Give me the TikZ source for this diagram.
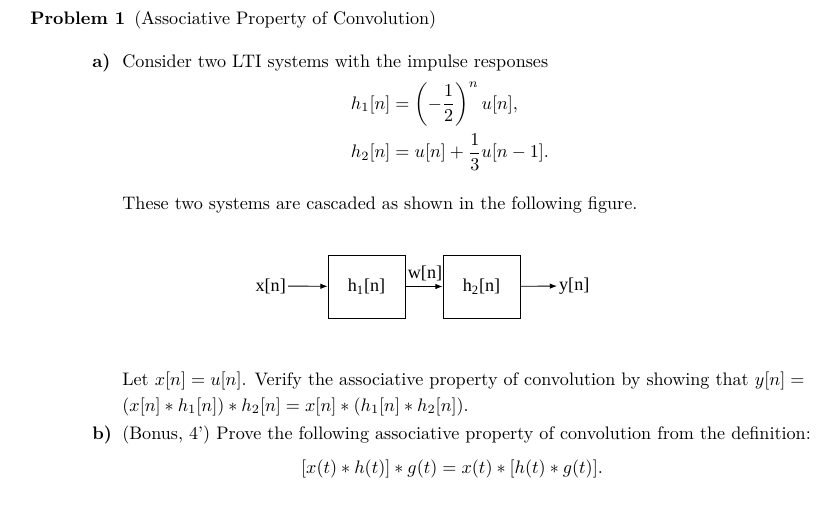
\documentclass[tikz,border=0pt]{standalone}
\usepackage{amsmath}
\usepackage{fontspec}
\newfontfamily\blk{Liberation Serif}
\usetikzlibrary{arrows.meta}
\begin{document}
\begin{tikzpicture}[x=0.552pt,y=-0.552pt,
  txt/.style={anchor=base west,inner sep=0pt},
  blockbox/.style={draw,minimum width=77*0.552pt,minimum height=63*0.552pt,inner sep=0pt,font=\blk},
  sig/.style={inner sep=1pt,font=\blk},
  conn/.style={-{Latex[length=4pt,width=3pt]},line width=0.5pt}]
\useasboundingbox (0,0) rectangle (831,509);
\node[txt] (t1) at (30,24) {\textbf{Problem 1}\enspace(Associative Property of Convolution)};
\node[txt] (a) at (92,67) {\textbf{a)}};
\node[txt] (t2) at (122,67) {Consider two LTI systems with the impulse responses};
\node (eq1) at (450,126) {$\displaystyle\begin{aligned}h_1[n]&=\left(-\frac{1}{2}\right)^{n}u[n],\\ h_2[n]&=u[n]+\frac{1}{3}u[n-1].\end{aligned}$};
\node[txt] (t3) at (122,209) {These two systems are cascaded as shown in the following figure.};
\node[blockbox] (h1) at (366.5,286.5) {h\textsubscript{1}[n]};
\node[blockbox] (h2) at (481.5,286.5) {h\textsubscript{2}[n]};
\node[sig,anchor=east] (x) at (288,286) {x[n]};
\node[sig,anchor=west] (y) at (557,286) {y[n]};
\node[sig,anchor=south] (w) at (425,283) {w[n]};
\draw[conn] (x) -- (h1);
\draw[conn] (h1) -- (h2);
\draw[conn] (h2) -- (y);
\node[txt] (t4) at (122,385) {Let $x[n]=u[n]$. Verify the associative property of convolution by showing that $y[n]=$};
\node[txt] (t5) at (122,411) {$(x[n]*h_1[n])*h_2[n]=x[n]*(h_1[n]*h_2[n])$.};
\node[txt] (b) at (92,439) {\textbf{b)}};
\node[txt] (t6) at (122,439) {(Bonus, 4') Prove the following associative property of convolution from the definition:};
\node[anchor=base] (eq2) at (452,473) {$[x(t)*h(t)]*g(t)=x(t)*[h(t)*g(t)].$};
\end{tikzpicture}
\end{document}
